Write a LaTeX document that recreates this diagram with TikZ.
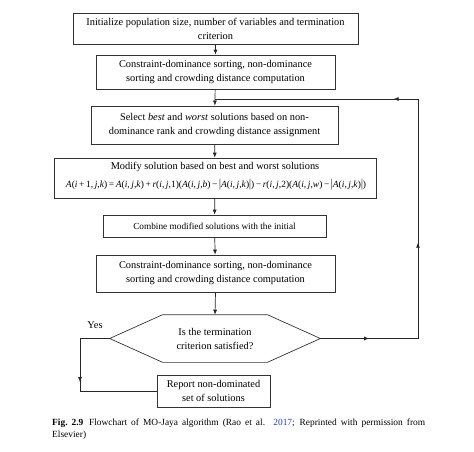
\documentclass[tikz,border=0pt]{standalone}
\usepackage{fontspec}
\setmainfont{Liberation Serif}
\usetikzlibrary{arrows.meta,decorations.markings}
\definecolor{linkblue}{RGB}{30,60,200}
\newcommand{\iv}[1]{\textit{#1}}
\newcommand{\vb}{\raisebox{-0.5pt}{\scalebox{1}[1.25]{|}}}
\begin{document}
\begin{tikzpicture}[x=1pt,y=-1pt,
  box/.style={draw=black!80,line width=0.7pt,inner sep=0pt,align=center,
    font=\fontsize{10.35}{14}\selectfont},
  arr/.style={draw=black!85,line width=0.7pt,-{Latex[length=5pt,width=4pt]}},
  ln/.style={draw=black!85,line width=0.7pt},
  marr/.style={postaction={decorate},decoration={markings,
    mark=at position #1 with {\arrow{Latex[length=5pt,width=4pt]}}}}]
\useasboundingbox (0,0) rectangle (474,451);

\node[box,minimum width=285pt,minimum height=31pt] (b1) at (215.5,28.5)
  {Initialize population size, number of variables and termination\\criterion};
\node[box,minimum width=239pt,minimum height=34pt] (b2) at (215.5,72)
  {Constraint-dominance sorting, non-dominance\\sorting and crowding distance computation};
\node[box,minimum width=247pt,minimum height=38pt] (b3) at (214.5,125)
  {Select \textit{best} and \textit{worst} solutions based on non-\\dominance rank and crowding distance assignment};
\node[box,minimum width=322pt,minimum height=40pt] (b4) at (215,178) {};
\node[font=\fontsize{10.35}{14}\selectfont,inner sep=0pt] (t4a) at (215,167)
  {Modify solution based on best and worst solutions};
\node[font=\fontsize{9.5}{10}\selectfont,inner sep=0pt] (t4b) at (216,185)
  {\iv{A}(\iv{i}\,+\,1,\,\iv{j},\iv{k})\,=\,\iv{A}(\iv{i},\,\iv{j},\iv{k})\,+\,\iv{r}(\iv{i},\,\iv{j},1)(\iv{A}(\iv{i},\,\iv{j},\iv{b})\,−\,\vb\iv{A}(\iv{i},\,\iv{j},\iv{k})\vb)\,−\,\iv{r}(\iv{i},\,\iv{j},2)(\iv{A}(\iv{i},\,\iv{j},\iv{w})\,−\,\vb\iv{A}(\iv{i},\,\iv{j},\iv{k})\vb)};
\node[box,minimum width=223pt,minimum height=22pt,font=\fontsize{9.3}{12}\selectfont] (b5) at (214.5,226)
  {Combine modified solutions with the initial};
\node[box,minimum width=239pt,minimum height=37pt] (b6) at (215.5,273.5)
  {Constraint-dominance sorting, non-dominance\\sorting and crowding distance computation};
\node[box,draw=none,minimum width=210pt,minimum height=47pt] (hex) at (215,338.5)
  {Is the termination\\criterion satisfied?};
\draw[draw=black!80,line width=0.7pt] (hex.west) -- ([xshift=53pt]hex.north west) -- ([xshift=-53pt]hex.north east)
  -- (hex.east) -- ([xshift=-53pt]hex.south east) -- ([xshift=53pt]hex.south west) -- cycle;
\node[box,minimum width=113pt,minimum height=32pt] (b7) at (213.5,391)
  {Report non-dominated\\set of solutions};
\node[font=\fontsize{10.35}{14}\selectfont,inner sep=0pt] (yes) at (95,325) {Yes};

\coordinate (fb) at (215,99);
\coordinate (r1) at (418,338.5);
\coordinate (r2) at (418,99);
\coordinate (y1) at (80,338.5);
\coordinate (y2) at (80,391);

\draw[arr] (b1) -- (b2);
\draw[arr] (b2) -- (b3);
\draw[arr] (b3) -- (b4);
\draw[arr] (b4) -- (b5);
\draw[arr] (b5) -- (b6);
\draw[arr] (b6.south) -- (hex.north);

\draw[ln,marr=0.5] (hex.east) -- (r1);
\draw[ln,marr=0.4] (r1) -- (r2);
\draw[ln,marr=0.12] (r2) -- (fb);
\draw[ln] (hex.west) -- (y1);
\draw[ln,marr=0.83] (y1) -- (y2);
\draw[ln] (y2) -- (b7.west);

\node[anchor=north west,inner sep=0pt,text width=373pt,align=justify,
  font=\fontsize{9.4}{12}\selectfont] (cap) at (52,419)
  {\textbf{Fig.~2.9}\hspace{0.6em}Flowchart of MO-Jaya algorithm (Rao et al. \textcolor{linkblue}{2017}; Reprinted with permission from\linebreak Elsevier)};
\end{tikzpicture}
\end{document}
